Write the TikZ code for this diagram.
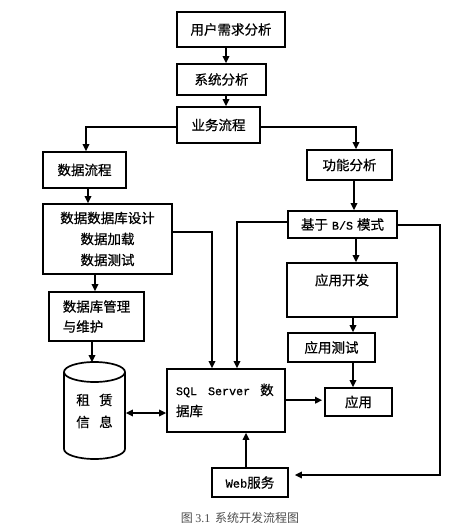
\documentclass[tikz,border=0pt]{standalone}
\usepackage{fontspec}
\setmainfont{Noto Sans CJK SC}
\newfontfamily\boxfont{Noto Sans CJK SC}[FakeBold=0.6]
\newfontfamily\monofont{Liberation Mono}[FakeBold=0.6]
\newfontfamily\capfont{Liberation Serif}
\usetikzlibrary{arrows.meta}
\begin{document}
\begin{tikzpicture}[x=1pt,y=-1pt,line width=1.7pt,
  box/.style={draw,rectangle,inner sep=0pt,font=\boxfont\fontsize{13.5}{21}\selectfont,align=center},
  arr/.style={-{Triangle[length=7pt,width=6.5pt]}},
  darr/.style={{Triangle[length=7pt,width=6.5pt]}-{Triangle[length=7pt,width=6.5pt]}}]
\useasboundingbox (0,0) rectangle (474,527);
% nodes
\node[box,minimum width=108pt,minimum height=35pt] (n1) at (231,29.5) {用户需求分析};
\node[box,minimum width=89pt,minimum height=31pt] (n2) at (221.5,79.5) {系统分析};
\node[box,minimum width=83pt,minimum height=36pt] (n3) at (218.5,125) {业务流程};
\node[box,minimum width=83pt,minimum height=36pt] (n4) at (84.5,170) {数据流程};
\node[box,minimum width=85pt,minimum height=30pt] (n5) at (349.5,165) {功能分析};
\node[box,minimum width=129pt,minimum height=70pt] (n6) at (107.5,239) {数据数据库设计\\数据加载\\数据测试};
\node[box,minimum width=95pt,minimum height=49pt,align=left,font=\boxfont\fontsize{13.5}{20}\selectfont] (n7) at (96.5,316.5) {数据库管理\\与维护};
\node[box,minimum width=118pt,minimum height=63pt,align=left,text width=100pt] (n9) at (226,400.5) {{\monofont\fontsize{11.7}{21}\selectfont SQL\hspace{11pt}Server}\hspace{10pt}数\\据库};
\node[box,minimum width=109pt,minimum height=27pt] (n10) at (342.5,224.5) {基于\hspace{4pt}{\monofont\fontsize{11.7}{21}\selectfont B/S}\hspace{4pt}模式};
\node[box,minimum width=110pt,minimum height=54pt] (n11) at (342,290) {应用开发\\\mbox{}};
\node[box,minimum width=87pt,minimum height=29pt] (n12) at (331.5,347.5) {应用测试};
\node[box,minimum width=67pt,minimum height=28pt] (n13) at (358.5,402) {应用};
\node[box,minimum width=76pt,minimum height=29pt] (n14) at (250,482.5) {{\monofont\fontsize{12}{21}\selectfont Web}服务};
% cylinder
\draw (64,372) -- (64,449) arc[start angle=180,end angle=360,x radius=30.5pt,y radius=10pt] -- (125,372);
\draw (94.5,372) ellipse[x radius=30.5pt,y radius=10pt];
\node[inner sep=0pt,minimum width=61pt,minimum height=96pt,align=center,font=\boxfont\fontsize{13.5}{22}\selectfont] (cyl) at (94.5,411) {\raisebox{-4pt}{租\hspace{0.7em}赁}\\\raisebox{-4pt}{信\hspace{0.7em}息}};
% caption
\node[font=\fontsize{12}{14}\selectfont,text=black!70] (cap) at (240,518) {图 {\capfont 3.1}\hspace{0.4em}系统开发流程图};
% connectors
\draw[arr] ([xshift=-5pt]n1.south) -- ([xshift=-5pt]n1.south |- n2.north);
\draw[arr] ([xshift=4.5pt]n2.south) -- ([xshift=4.5pt]n2.south |- n3.north);
\draw[arr] ([yshift=-2pt]n3.west) -| ([xshift=1.5pt]n4.north);
\draw[arr] ([yshift=-2pt]n3.east) -| ([xshift=6.5pt]n5.north);
\draw[arr] ([xshift=3.5pt]n4.south) -- ([xshift=3.5pt]n4.south |- n6.north);
\draw[arr] ([xshift=4.5pt]n5.south) -- ([xshift=4.5pt]n5.south |- n10.north);
\draw[arr] ([xshift=-12.5pt]n6.south) -- ([xshift=-12.5pt]n6.south |- n7.north);
\draw[arr] ([xshift=-4.5pt]n7.south) -- ([xshift=-4.5pt]n7.south |- cyl.north);
\draw[arr] ([yshift=7pt]n6.east) -| ([xshift=-14pt]n9.north);
\draw[arr] ([yshift=2.5pt]n10.west) -| ([xshift=11pt]n9.north);
\draw[arr] ([xshift=13.5pt]n10.south) -- ([xshift=13.5pt]n10.south |- n11.north);
\draw[arr] ([xshift=11pt]n11.south) -- ([xshift=11pt]n11.south |- n12.north);
\draw[arr] ([xshift=21.5pt]n12.south) -- ([xshift=21.5pt]n12.south |- n13.north);
\draw[arr,shorten >=2pt] ([yshift=0.3pt]n9.east) -- ([yshift=0.3pt]n9.east -| n13.west);
\draw[darr] ([yshift=-2pt]cyl.east) -- ([yshift=-2pt]cyl.east -| n9.west);
\draw[arr] ([xshift=-4pt]n14.north) -- ([xshift=-4pt]n14.north |- n9.south);
\draw[arr,shorten >=6pt] ([yshift=-0.3pt]n10.east) -- ++(42,0) |- ([yshift=7.5pt]n14.east);
\end{tikzpicture}
\end{document}
